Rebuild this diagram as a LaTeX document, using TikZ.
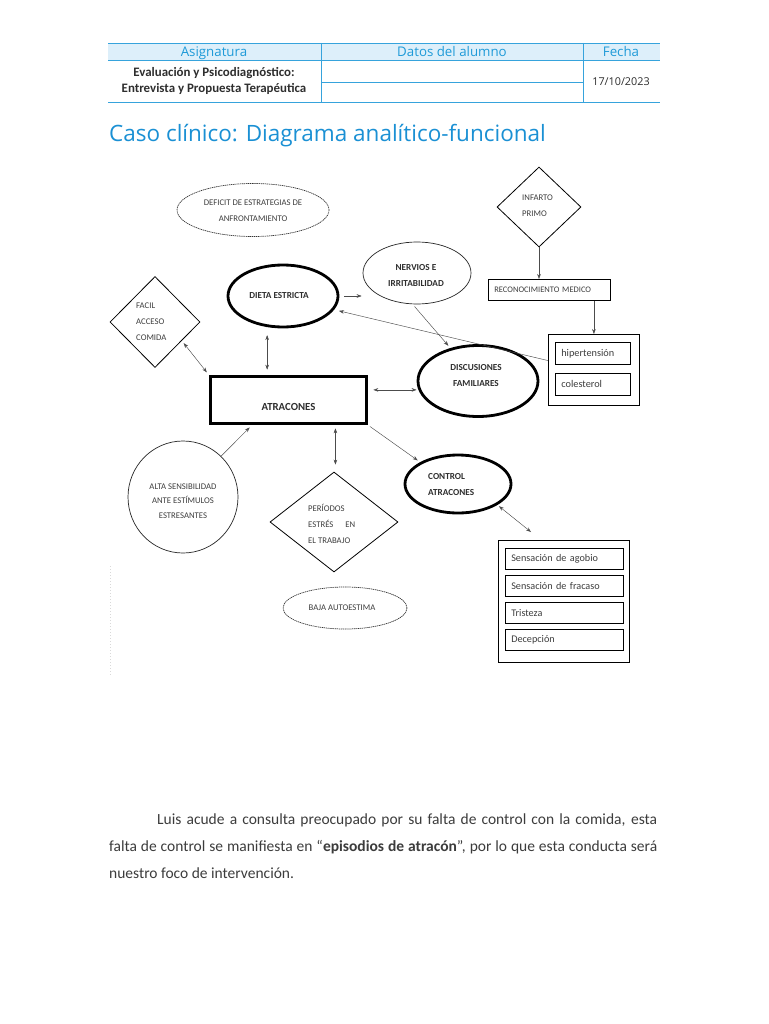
\documentclass[tikz,border=0pt]{standalone}
\usepackage{fontspec}
\setmainfont{Carlito}
\newfontfamily\osans{Open Sans}
\usetikzlibrary{shapes.geometric,arrows.meta,calc}
\definecolor{hline}{HTML}{36A3DC}
\definecolor{hfill}{HTML}{DDEFFA}
\definecolor{hblue}{HTML}{1E9AD8}
\definecolor{tblue}{HTML}{1A90D4}
\definecolor{dtxt}{HTML}{2E2E2E}
\definecolor{gtxt}{HTML}{3E3E3E}
\definecolor{body}{HTML}{3C3C3C}
\tikzset{
  hdr/.style={font=\osans\fontsize{13.3}{15}\selectfont, text=hblue, inner sep=0},
  lbl/.style={align=left, text=gtxt, font=\fontsize{8.7}{16}\selectfont, inner sep=0},
  blbl/.style={align=left, text=dtxt, font=\bfseries\fontsize{9.2}{16}\selectfont, inner sep=0},
  ell/.style={ellipse, draw, inner sep=0},
  thin/.style={line width=0.7pt, draw=black!85},
  thick/.style={line width=2.8pt},
  dsh/.style={line width=0.7pt, dash pattern=on 1.2pt off 0.7pt, draw=black!80},
  dia/.style={diamond, draw, line width=0.8pt, inner sep=0},
  sbox/.style={draw, line width=0.6pt, rectangle, inner ysep=0, inner xsep=6pt, align=left, text=gtxt},
  arr/.style={-{Stealth[length=5pt,width=3.6pt]}, line width=0.45pt, draw=black!70},
  darr/.style={{Stealth[length=5pt,width=3.6pt]}-{Stealth[length=5pt,width=3.6pt]}, line width=0.45pt, draw=black!70},
}
\begin{document}
\begin{tikzpicture}[x=1pt,y=-1pt]
\useasboundingbox[fill=white] (0,0) rectangle (768,1024);
% header table
\fill[hfill] (108,43) rectangle (660,60);
\draw[hline, line width=0.8pt] (108,43) -- (660,43) (108,60) -- (660,60) (108,102) -- (660,102)
  (321,43) -- (321,102) (583,43) -- (583,102);
\draw[hline, line width=0.6pt] (321,82) -- (583,82);
\node[hdr, anchor=base] (h1) at (214,56.5) {Asignatura};
\node[hdr, anchor=base] (h2) at (452,56.5) {Datos del alumno};
\node[hdr, anchor=base] (h3) at (621,56.5) {Fecha};
\node[align=center, text=dtxt, font=\bfseries\fontsize{12.9}{15.5}\selectfont, inner sep=0] (subj) at (214,81) {Evaluación y Psicodiagnóstico:\\Entrevista y Propuesta Terapéutica};
\node[font=\osans\fontsize{10.8}{12}\selectfont, text=dtxt, inner sep=0] (date) at (621,82) {17/10/2023};
% title
\node[anchor=base west, inner sep=0, text=tblue, font=\osans\fontsize{22.5}{26}\selectfont] (title) at (109,142) {Caso clínico: Diagrama analítico-funcional};

% diagram nodes
\node[ell, dsh, minimum width=152, minimum height=53] (def) at (253,210) {};
\node[lbl, align=center] (deft) at (253,211) {DEFICIT DE ESTRATEGIAS DE\\ANFRONTAMIENTO};
\node[dia, minimum width=84, minimum height=80] (inf) at (539,207) {};
\node[lbl, anchor=west] (inft) at (522,206) {INFARTO\\PRIMO};
\node[sbox, anchor=north west, minimum width=122, minimum height=21, text width=110, font=\fontsize{8.5}{9}\selectfont] (rec) at (488,279) {RECONOCIMIENTO MEDICO};
\node[draw, line width=0.8pt, anchor=north west, minimum width=91, minimum height=71, inner sep=0] (med) at (548,334) {};
\node[sbox, anchor=north west, minimum width=75, minimum height=22, text width=63, font=\fontsize{10.3}{11}\selectfont] (hip) at (555,342) {hipertensión};
\node[sbox, anchor=north west, minimum width=75, minimum height=22, text width=63, font=\fontsize{10.3}{11}\selectfont] (col) at (555,373) {colesterol};

\node[ell, thin, minimum width=108, minimum height=62] (nerv) at (417,273) {};
\node[blbl, align=center] (nervt) at (416,275) {NERVIOS E\\IRRITABILIDAD};
\node[ell, thick, minimum width=110, minimum height=62] (dieta) at (283,296) {};
\node[blbl] (dietat) at (279,296) {DIETA ESTRICTA};
\node[ell, thick, minimum width=120, minimum height=71] (disc) at (478,381) {};
\node[blbl, align=center] (disct) at (476,376) {DISCUSIONES\\FAMILIARES};
\node[dia, minimum width=90, minimum height=91] (facil) at (155,322) {};
\node[lbl, anchor=west] (facilt) at (136,322) {FACIL\\ACCESO\\COMIDA};
\node[draw, line width=3.6pt, minimum width=156, minimum height=47, inner sep=0] (atr) at (288.5,400) {};
\node[text=dtxt, font=\bfseries\fontsize{10.8}{12}\selectfont, inner sep=0] (atrt) at (288.5,407) {ATRACONES};
\node[ell, thin, minimum width=110, minimum height=112] (alta) at (183,497) {};
\node[lbl, align=center, font=\fontsize{8.7}{14.5}\selectfont] (altat) at (183,501) {ALTA SENSIBILIDAD\\ANTE ESTÍMULOS\\ESTRESANTES};
\node[dia, minimum width=128, minimum height=100] (per) at (334,522) {};
\node[lbl, anchor=west] (pert) at (308,524) {PERÍODOS\\ESTRÉS\hspace{12pt}EN\\EL TRABAJO};
\node[ell, thick, minimum width=106, minimum height=58] (ctrl) at (458,484) {};
\node[blbl, anchor=west] (ctrlt) at (428,485) {CONTROL\\ATRACONES};
\node[ell, dsh, minimum width=124, minimum height=42] (baja) at (345,608) {};
\node[lbl] (bajat) at (342,608) {BAJA AUTOESTIMA};
\node[draw, line width=1pt, anchor=north west, minimum width=131, minimum height=122, inner sep=0] (emo) at (498,540) {};
\node[sbox, anchor=north west, minimum width=118, minimum height=21, text width=106, font=\fontsize{10.2}{11}\selectfont] (e1) at (505,548) {Sensación de agobio};
\node[sbox, anchor=north west, minimum width=118, minimum height=21, text width=106, font=\fontsize{10.2}{11}\selectfont] (e2) at (505,575) {Sensación de fracaso};
\node[sbox, anchor=north west, minimum width=118, minimum height=21, text width=106, font=\fontsize{10.2}{11}\selectfont] (e3) at (505,602) {Tristeza};
\node[sbox, anchor=north west, minimum width=118, minimum height=21, text width=106, font=\fontsize{10.2}{11}\selectfont] (e4) at (505,629) {Decepción};
\coordinate (emoin) at (531,532);
\coordinate (pa) at ($(atr.north east)!0.3!(atr.south east)$);
\coordinate (pb) at ($(atr.south west)!0.794!(atr.south east)$);
\coordinate (pc) at ($(atr.south west)!0.27!(atr.south east)$);
\coordinate (pm) at ($(med.north west)!0.37!(med.south west)$);

% connectors
\draw[arr] (inf.south) -- (inf.south |- rec.north);
\draw[arr] (rec.south -| med.north) -- (med.north);
\draw[arr, shorten <=5pt, shorten >=1pt] (dieta.east) -- (dieta.east -| nerv.west);
\draw[arr, shorten >=5pt] (pm) -- (dieta.-15);
\draw[arr, shorten <=3pt, shorten >=3pt] (nerv.262) -- (disc.130);
\draw[darr, shorten <=5pt] (pa) -- (pa -| disc.west);
\draw[darr, shorten <=3pt, shorten >=3pt] (facil.-35) -- (atr.north west);
\draw[darr, shorten <=8pt, shorten >=5pt] (dieta.243) -- (dieta.243 |- atr.north);
\draw[arr, shorten >=3pt] (alta.47) -- (pc);
\draw[darr, shorten <=3pt, shorten >=7pt] (pb) -- (pb |- per.north);
\draw[arr, shorten <=2pt, shorten >=3pt] (atr.south east) -- (ctrl.150);
\draw[darr, shorten <=2pt] (ctrl.-28) -- (emoin);
% faint scan artefact
\draw[black!15, line width=0.4pt, dash pattern=on 1pt off 2pt] (110,566) -- (110,675);

% body text
\node[anchor=north west, inner sep=0, text width=548pt, align=justify, text=body, font=\fontsize{15.5}{27}\selectfont] (bodyt) at (109,814) {\hspace*{48pt}Luis acude a consulta preocupado por su falta de control con la comida, esta\linebreak falta de control se manifiesta en “\textbf{episodios de atracón}”, por lo que esta conducta será\linebreak nuestro foco de intervención.};
\end{tikzpicture}
\end{document}
